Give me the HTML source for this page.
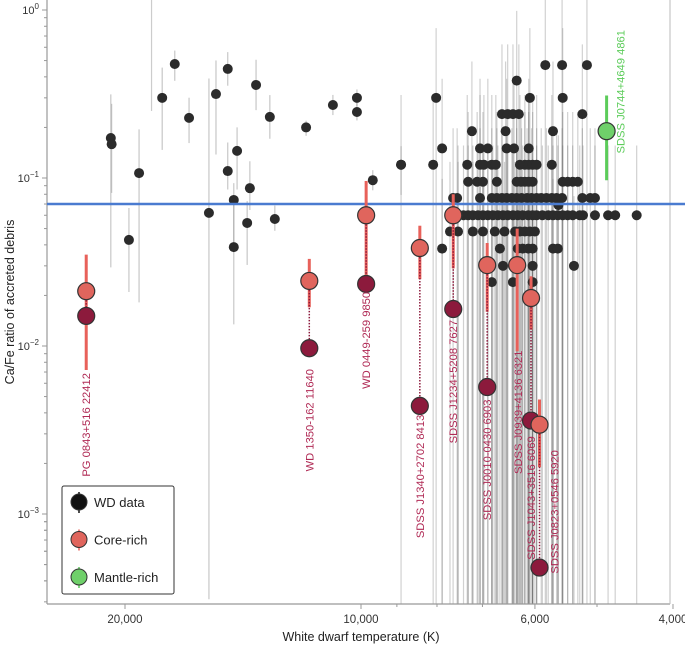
<!DOCTYPE html>
<html><head><meta charset="utf-8"><style>
html,body{margin:0;padding:0;background:#fff;}
svg{display:block;font-family:"Liberation Sans",sans-serif;}
</style></head><body>
<svg id="chart" width="685" height="646" viewBox="0 0 685 646"></svg>
<script>
// ---- data ----
const refRatio = 0.07;
// isolated WD points: [T, value, errUpDex, errDownDex]
const wdSingles = [
 [20850,0.173,0.26,0.77],[20800,0.159,0.24,0.29],[19770,0.0428,0.19,0.31],[19190,0.107,0.26,0.77],
 [17930,0.30,0.18,0.31],[17280,0.477,0.08,0.1],[16570,0.228,0.12,0.15],[15630,0.062,0.8,2.3],
 [15310,0.316,0.2,0.36],[14790,0.446,0.1,0.1],[14790,0.110,0.17,0.11],[14530,0.074,0.1,0.3],
 [14530,0.0388,0.3,0.46],[14390,0.145,0.14,0.23],[13970,0.054,0.13,0.25],[13860,0.087,0.16,0.13],
 [13610,0.358,0.15,0.15],[13070,0.231,0.13,0.13],[12880,0.057,0.08,0.07],[11750,0.20,0.04,0.05],
 [10860,0.272,0.06,0.06],[10120,0.30,0.05,0.05],[10120,0.247,0.07,0.05],[9660,0.097,0.06,0.06],
 [8890,0.12,0.11,0.18]
];
// dense cluster rows
const clusterValues = [0.47,0.38,0.30,0.24,0.19,0.15,0.12,0.095,0.076,0.069,0.060,0.048,0.038,0.030,0.024];
const clusterTemps = [
 [5820,5540,5150],
 [6330],
 [8020,6090,5530],
 [6610,6500,6400,6290,5220],
 [7220,6540,5690],
 [7880,7050,6890,6520,6380,6110],
 [8890,8090,7320,7050,6970,6810,6730,6270,6180,6110,6040,5970,5710],
 [7300,7110,6990,6710,6330,6250,6180,6110,6040,5530,5450,5370,5290],
 [7630,7540,7050,6810,6710,6610,6520,6420,6330,6240,6140,6060,5970,5890,5800,5710,5630,5540,5220,5100,5030],
 [5600],
 [7520,7400,7300,7200,7090,6990,6890,6790,6690,6590,6500,6400,6310,6220,6120,6040,5970,5870,5770,5690,5610,5530,5450,5370,5260,5210,5030,4840,4740,4450],
 [7700,7520,7200,6990,6750,6560,6360,6270,6180,6090,6000],
 [7880,6650,6310,6220,6120,6040,5690,5610],
 [6590,6400,6040,5350],
 [6810,6400,6040]
];
// named objects
const objNames = ["PG 0843+516 22412","WD 1350-162 11640","WD 0449-259 9850","SDSS J1340+2702 8413","SDSS J1234+5208 7627","SDSS J0010-0430 6903","SDSS J0939+4136 6321","SDSS J1043+3516 6069","SDSS J0823+0546 5920"];
const objTemps = [22412,11640,9850,8413,7627,6903,6321,6069,5920];
const coreValues = [0.0212,0.0244,0.060,0.0383,0.060,0.0303,0.0303,0.0193,0.0034];
const darkValues = [0.0151,0.0097,0.0234,0.0044,0.0166,0.0057,null,0.0036,0.00048];
const barHi = [0.035,0.033,0.096,0.052,0.080,0.041,0.050,0.026,0.0048];
const barLo = [0.0072,0.017,0.026,0.025,0.029,0.016,0.0093,0.0125,0.0019];
const labelTopValues = [0.0069,0.0073,0.021,0.0039,0.0143,0.0048,0.0094,0.0029,0.0024];
const mantleName = "SDSS J0744+4649 4861";
const mantleTemp = 4861, mantleValue = 0.19, mantleHi = 0.31, mantleLo = 0.097;
const xMajorTicks = [20000,10000,6000,4000];
const xTickLabels = ["20,000","10,000","6,000","4,000"];
const xMinorTicks = [9000,8000,7000,5000];
const yDecades = [0,-1,-2,-3];
// label horizontal nudges (layout only)
const labelDx = [4,4,4,4,4,4,5,4,19];

// ---- scales ----
const X0=47,X1=670,Y0=0,Y1=604;
function x(T){return 361+(4-Math.log10(T))*784;}
function y(v){return 178-(Math.log10(v)+1)*168;}
const NS="http://www.w3.org/2000/svg";
const svg=document.getElementById('chart');
function mk(tag,attrs,parent){const e=document.createElementNS(NS,tag);for(const k in attrs)e.setAttribute(k,attrs[k]);(parent||svg).appendChild(e);return e;}
function g(name){const e=mk('g',{});return e;}

// error bars
const gErr=g('wd-error-bars');
clusterTemps.forEach((row,i)=>{row.forEach(T=>{
  const l=mk('line',{x1:x(T),x2:x(T),y1:Math.max(0,y(clusterValues[i]*2.6)),y2:Y1,stroke:'#666','stroke-opacity':0.3,'stroke-width':1.2},gErr);
  
  
});});
wdSingles.forEach(p=>{
  const l=mk('line',{x1:x(p[0]),x2:x(p[0]),y1:Math.max(0,y(p[1]*Math.pow(10,p[2]))),y2:Math.min(Y1,y(p[1]/Math.pow(10,p[3]))),stroke:'#999','stroke-opacity':0.55,'stroke-width':1.2},gErr);
  
  
});
const stray=mk('line',{x1:x(18500),x2:x(18500),y1:0,y2:111,stroke:'#999','stroke-opacity':0.5,'stroke-width':1.2},gErr);



// axes
const gAx=g('axes');
const ya=mk('line',{x1:X0,x2:X0,y1:Y0,y2:Y1,stroke:'#999','stroke-width':1.2},gAx);

const xa=mk('line',{x1:X0,x2:X1,y1:Y1,y2:Y1,stroke:'#999','stroke-width':1.2},gAx);

const ra=mk('line',{x1:X1,x2:X1,y1:Y0,y2:Y1,stroke:'#bbb','stroke-width':1},gAx);

yDecades.forEach(d=>{
  const yy=y(Math.pow(10,d));
  mk('line',{x1:X0-5,x2:X0,y1:yy,y2:yy,stroke:'#999'},gAx);
  const t=mk('text',{x:X0-8,y:yy+4,'text-anchor':'end','font-size':11,fill:'#333'},gAx);
  
  t.textContent='10';
  const s=mk('tspan',{dy:-5,'font-size':8},t);s.textContent=d===0?'0':'\u2212'+(-d);
  for(let m=2;m<10;m++){const v=m*Math.pow(10,d-1);const ym=y(v);if(ym<Y1&&ym>0)mk('line',{x1:X0-3,x2:X0,y1:ym,y2:ym,stroke:'#999'},gAx);}
});
for(let m=4;m<10;m++){const ym=y(m*1e-4);if(ym<Y1)mk('line',{x1:X0-3,x2:X0,y1:ym,y2:ym,stroke:'#999'},gAx);}
xMajorTicks.forEach((T,i)=>{
  mk('line',{x1:x(T),x2:x(T),y1:Y1,y2:Y1+5,stroke:'#999'},gAx);
  const t=mk('text',{x:x(T),y:Y1+19,'text-anchor':'middle','font-size':11.5,fill:'#333'},gAx);
  
  t.textContent=xTickLabels[i];
});
xMinorTicks.forEach(T=>mk('line',{x1:x(T),x2:x(T),y1:Y1,y2:Y1+3,stroke:'#999'},gAx));
const xt=mk('text',{x:361,y:641,'text-anchor':'middle','font-size':12.5,fill:'#222'});

xt.textContent='White dwarf temperature (K)';
const yt=mk('text',{x:0,y:0,transform:'translate(14,302) rotate(-90)','text-anchor':'middle','font-size':12.5,fill:'#222'});

yt.textContent='Ca/Fe ratio of accreted debris';

// WD dots
const gDots=g('wd-points');
clusterTemps.forEach((row,i)=>{row.forEach(T=>{
  const c=mk('circle',{cx:x(T),cy:y(clusterValues[i]),r:5,fill:'#2b2b2b'},gDots);
  
});});
wdSingles.forEach(p=>{
  const c=mk('circle',{cx:x(p[0]),cy:y(p[1]),r:5,fill:'#2b2b2b'},gDots);
  
});

// reference line
const bl=mk('line',{x1:X0,x2:685,y1:y(refRatio),y2:y(refRatio),stroke:'#4a7bd0','stroke-width':2.5});


// named objects
const gObj=g('core-rich-objects');
objNames.forEach((n,i)=>{
  const xx=x(objTemps[i]);
  mk('line',{x1:xx,x2:xx,y1:y(barHi[i]),y2:y(barLo[i]),stroke:'#e8615a','stroke-width':3},gObj);
  if(darkValues[i]!==null){
    mk('line',{x1:xx,x2:xx,y1:y(coreValues[i]),y2:y(darkValues[i]),stroke:'#8c1a3c','stroke-width':1.5,'stroke-dasharray':'1.5,1.5'},gObj);
    const d=mk('circle',{cx:xx,cy:y(darkValues[i]),r:8.5,fill:'#8c1a3c',stroke:'#333','stroke-width':1.2},gObj);
    
  }
  const c=mk('circle',{cx:xx,cy:y(coreValues[i]),r:8.5,fill:'#e0655d',stroke:'#333','stroke-width':1.2},gObj);
  
  const t=mk('text',{x:0,y:0,transform:`translate(${xx+labelDx[i]},${y(labelTopValues[i])}) rotate(-90)`,'text-anchor':'end','font-size':11.2,fill:'#b02a55'},gObj);
  
  t.textContent=n;
});
const mx=x(mantleTemp);
mk('line',{x1:mx,x2:mx,y1:y(mantleHi),y2:y(mantleLo),stroke:'#5ccc5a','stroke-width':3});
const mc=mk('circle',{cx:mx,cy:y(mantleValue),r:8.5,fill:'#6fd06a',stroke:'#333','stroke-width':1.2});

const mt=mk('text',{x:0,y:0,transform:`translate(${mx+18},30) rotate(-90)`,'text-anchor':'end','font-size':11.2,fill:'#5ccc5a'});

mt.textContent=mantleName;

// legend
const lg=g('legend');
mk('rect',{x:62,y:486,width:112,height:108,rx:2,fill:'#fff',stroke:'#333','stroke-width':1},lg);
const items=[['WD data','#111','#111'],['Core-rich','#e0655d','#e8615a'],['Mantle-rich','#6fd06a','#5ccc5a']];
items.forEach((it,i)=>{
  const yy=502+i*37.5;
  mk('line',{x1:79,x2:79,y1:yy-10,y2:yy+11,stroke:it[2],'stroke-width':1.5},lg);
  const c=mk('circle',{cx:79,cy:yy,r:8,fill:it[1],stroke:'#333','stroke-width':1},lg);
  
  const t=mk('text',{x:94,y:yy+5,'font-size':13,fill:'#222'},lg);
  
  t.textContent=it[0];
});
</script>
</body></html>
